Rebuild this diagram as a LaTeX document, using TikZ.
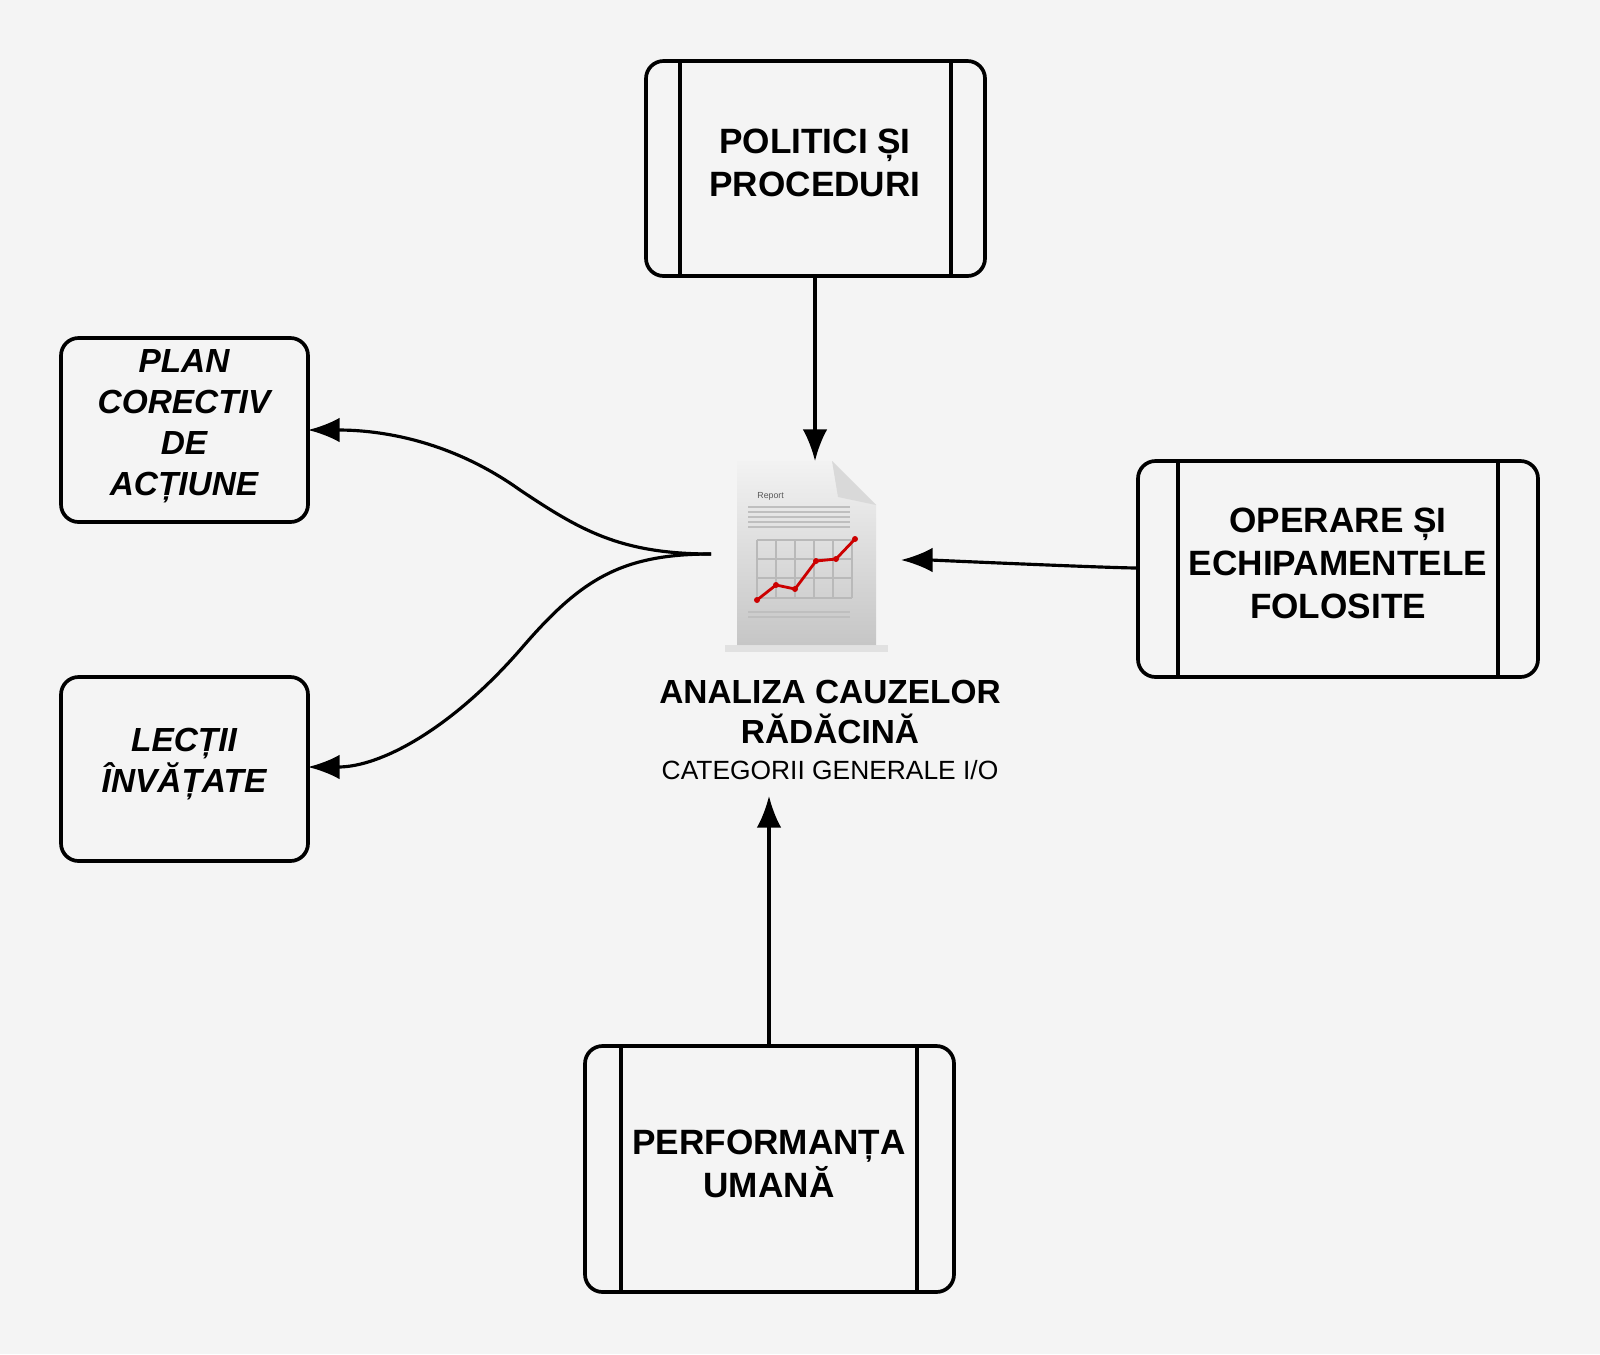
\documentclass[tikz,border=0pt]{standalone}
\usepackage{fontspec}
\setmainfont{Liberation Sans}
\usetikzlibrary{arrows.meta}
\definecolor{bg}{HTML}{F4F4F4}
\begin{document}
\begin{tikzpicture}[x=0.01cm,y=-0.01cm,
 box/.style={draw,line width=1.05pt,rounded corners=5pt},
 lbl/.style={font=\fontsize{10}{12.2}\selectfont\bfseries,align=center},
 arr/.style={line width=0.9pt,-{Latex[length=9pt,width=7pt]}}]
\fill[bg] (0,0) rectangle (1600,1354);
\useasboundingbox (0,0) rectangle (1600,1354);
% top
\draw[box] (646,61) rectangle (985,276);
\draw[line width=1.05pt] (680,61)--(680,276) (951,61)--(951,276);
\node[lbl] (pol) at (815,163) {POLITICI ȘI\\PROCEDURI};
\coordinate (polb) at (815,276);
% plan
\draw[box] (61,338) rectangle (308,522);
\node[lbl,font=\fontsize{9.5}{11.7}\selectfont\bfseries\itshape] (plan) at (184,426) {PLAN\\CORECTIV\\DE\\ACȚIUNE};
\coordinate (planr) at (308,430);
% lectii
\draw[box] (61,677) rectangle (308,861);
\node[lbl,font=\fontsize{9.5}{11.7}\selectfont\bfseries\itshape] (lec) at (184,764) {LECȚII\\ÎNVĂȚATE};
\coordinate (lecr) at (308,767);
% operare
\draw[box] (1138,461) rectangle (1538,677);
\draw[line width=1.05pt] (1178,461)--(1178,677) (1498,461)--(1498,677);
\node[lbl] (op) at (1338,563) {OPERARE ȘI\\ECHIPAMENTELE\\FOLOSITE};
\coordinate (opl) at (1138,568);
% performanta
\draw[box] (585,1046) rectangle (954,1292);
\draw[line width=1.05pt] (621,1046)--(621,1292) (917,1046)--(917,1292);
\node[lbl] (perf) at (769,1164) {PERFORMANȚA\\UMANĂ};
\coordinate (perft) at (769,1046);
% document icon
\shade[top color=gray!10,bottom color=gray!45] (737,461) -- (832,461) -- (876,505) -- (876,645) -- (737,645) -- cycle;
\fill[black!15,opacity=0.7] (725,645) rectangle (888,652);
\fill[gray!30] (832,461) -- (876,505) -- (838,497) -- cycle;
\node[font=\fontsize{2.5}{3}\selectfont,text=gray!70!black,anchor=west] (rep) at (745,496) {Report};
\foreach \yy in {507,512,517,522,527} \draw[gray!50,line width=0.3pt] (748,\yy)--(850,\yy);
\foreach \xx in {757,776,795,814,833,852}\draw[gray!55,line width=0.4pt](\xx,540)--(\xx,598);
\foreach \yy in {540,559,578,598}\draw[gray!55,line width=0.4pt](757,\yy)--(852,\yy);
\draw[red!80!black,line width=0.8pt] (757,600)--(776,585)--(795,589)--(816,561)--(836,559)--(855,539);
\foreach \p in {(757,600),(776,585),(795,589),(816,561),(836,559),(855,539)} \fill[red!80!black] \p circle (3);
\foreach \yy in {612,617} \draw[gray!50,line width=0.3pt] (748,\yy)--(850,\yy);
\coordinate (docl) at (711,554);
\coordinate (docr) at (901,560);
\coordinate (docb) at (769,796);
\coordinate (doct) at (815,461);
\node[lbl,font=\fontsize{9.5}{11.5}\selectfont\bfseries] (ana) at (830,712) {ANALIZA CAUZELOR\\RĂDĂCINĂ};
\node[font=\fontsize{7.5}{9}\selectfont] (cat) at (830,770) {CATEGORII GENERALE I/O};
% arrows
\draw[arr] (polb)--(doct);
\draw[arr] (perft)--(docb);
\draw[arr] (opl) to[out=180,in=0,looseness=0.3] (docr);
\draw[arr] (docl) .. controls (620,554) and (580,530) .. (520,490) .. controls (450,440) and (380,430) .. (planr);
\draw[arr] (docl) .. controls (620,554) and (580,580) .. (520,650) .. controls (450,730) and (380,767) .. (lecr);
\end{tikzpicture}
\end{document}
